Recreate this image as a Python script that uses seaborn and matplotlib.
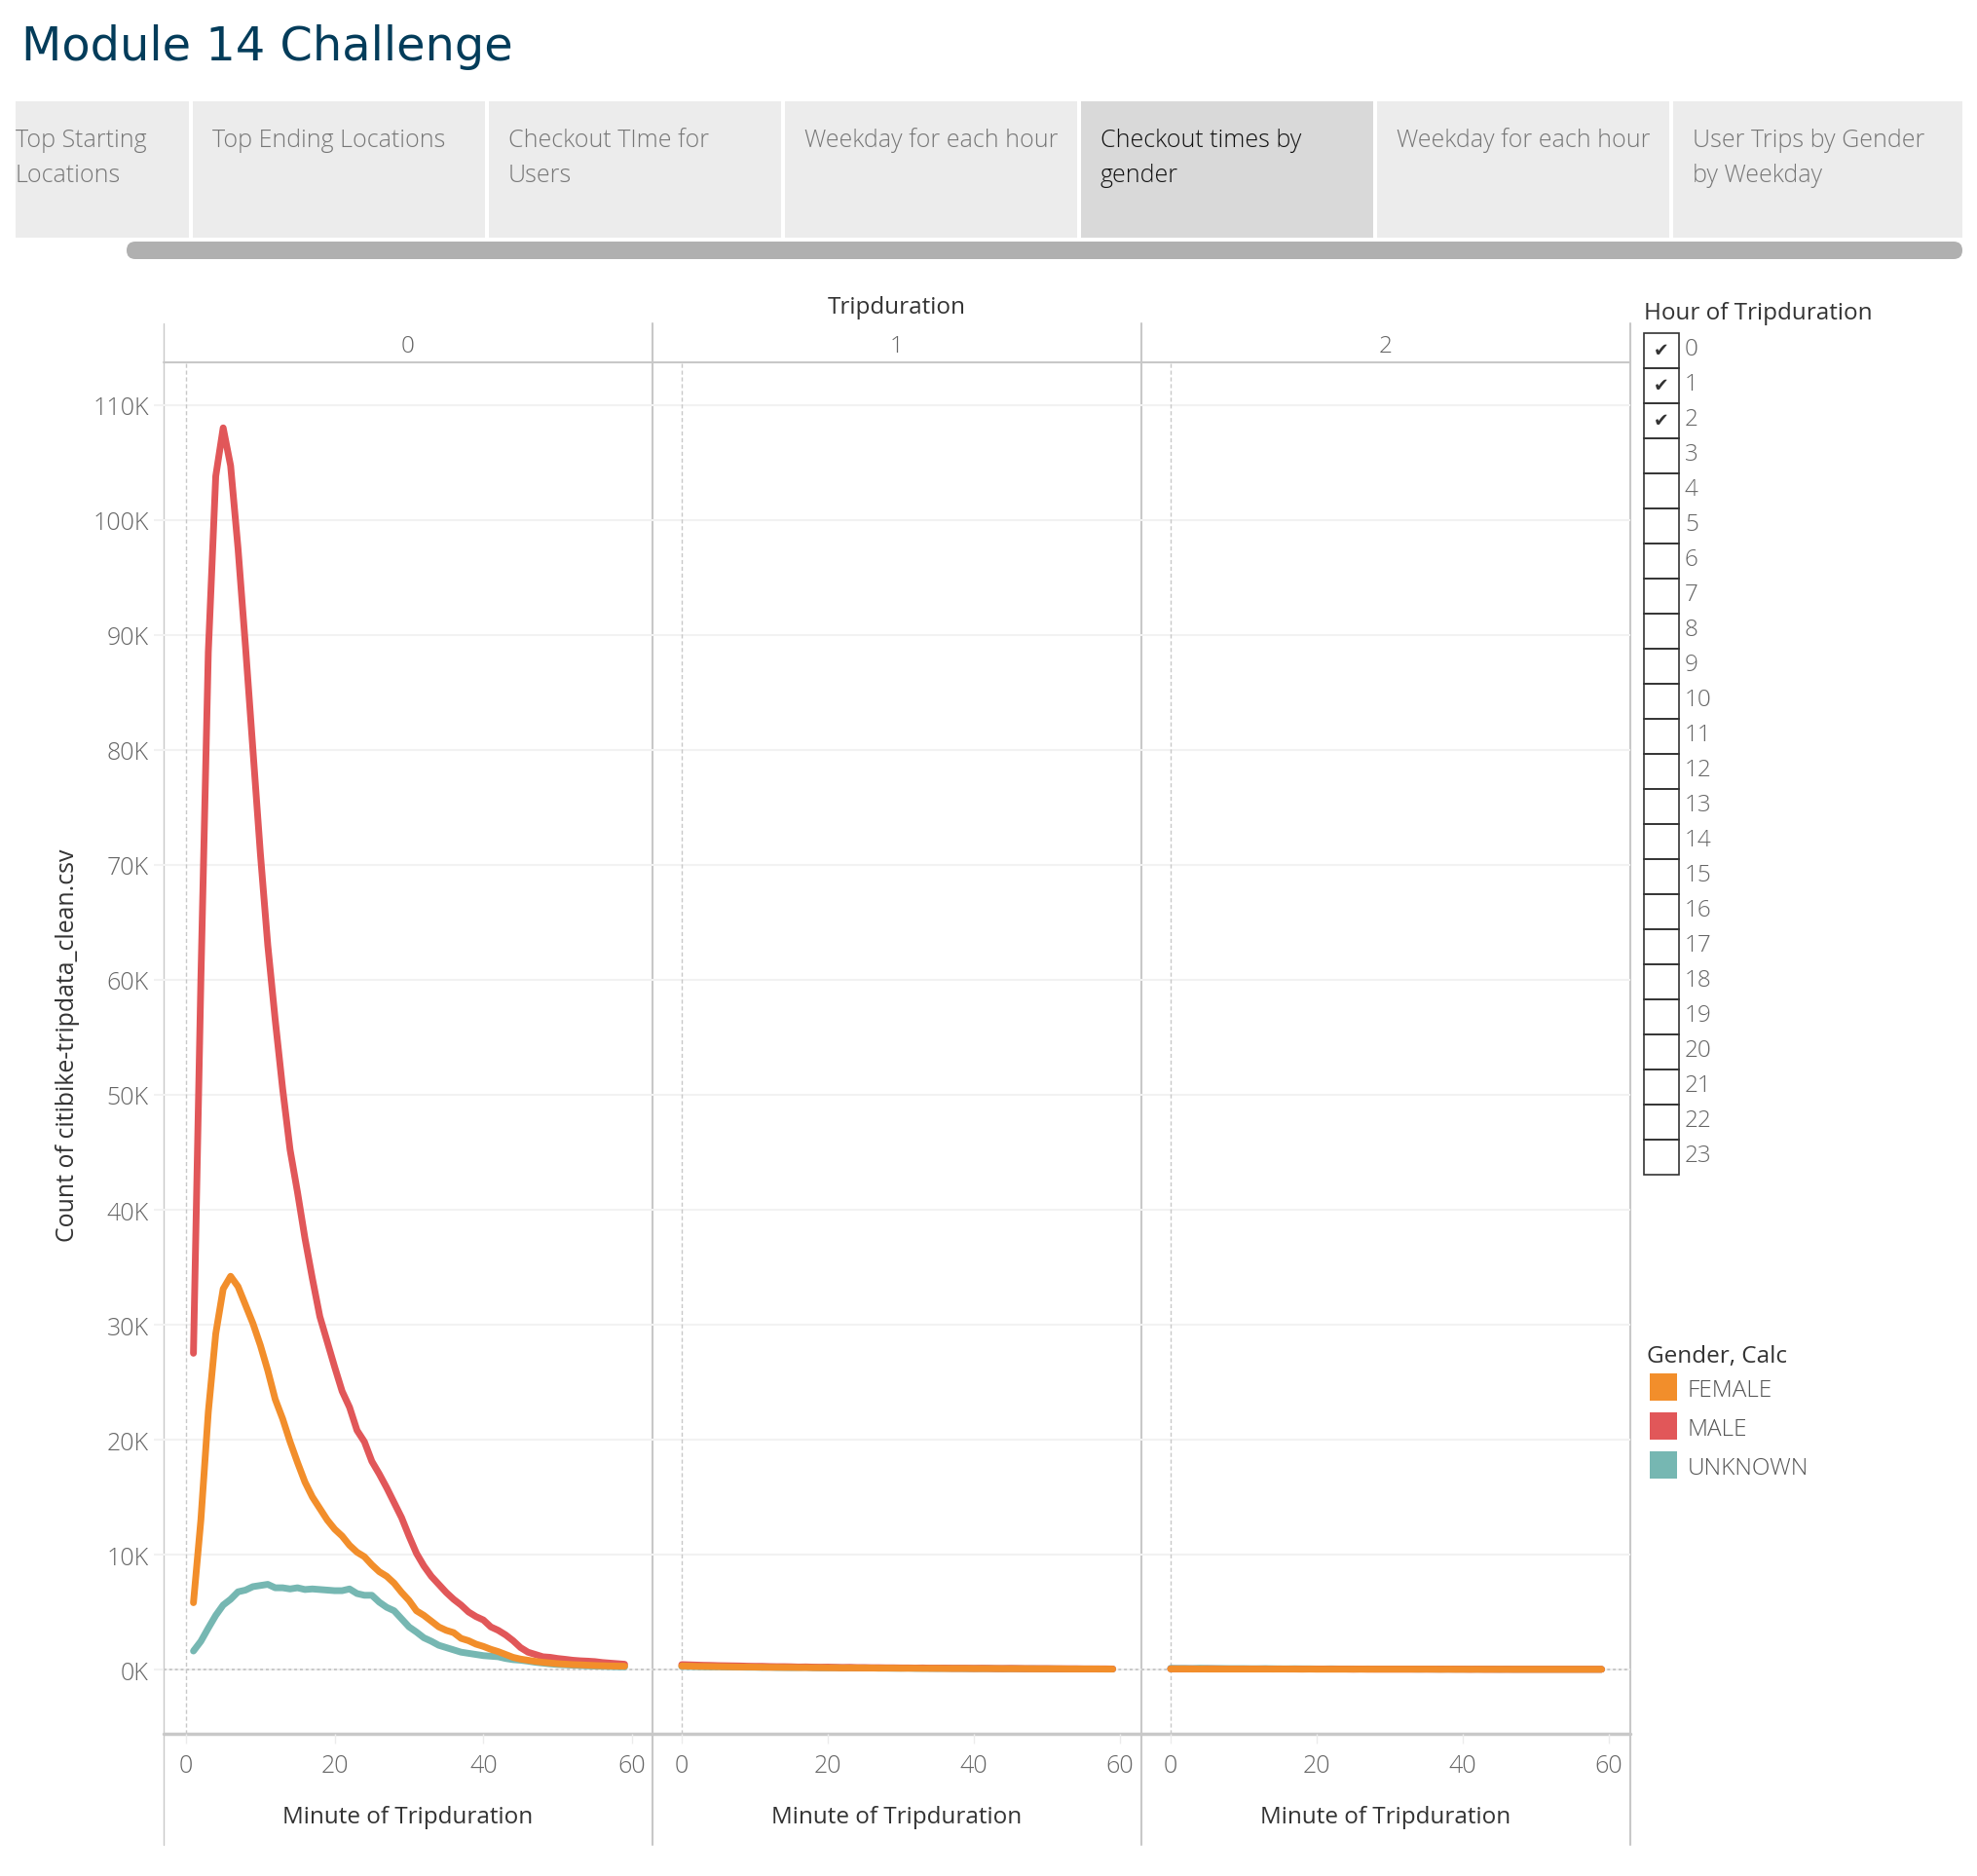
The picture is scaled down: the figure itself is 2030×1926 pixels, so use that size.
"""Module 14 Challenge: checkout times by gender, one panel per hour of trip duration."""
import matplotlib
matplotlib.use("Agg")
import matplotlib.pyplot as plt
import numpy as np
import pandas as pd
import seaborn as sns
from matplotlib.patches import FancyBboxPatch, Rectangle
from matplotlib.transforms import ScaledTranslation

W, H = 2030, 1926

# counts in thousands
female_h0 = [5.8, 13.0, 22.4, 29.2, 33.1, 34.2, 33.3, 31.7, 30.1, 28.2, 26.0, 23.5, 21.8, 19.8, 18.0,
             16.3, 15.0, 14.0, 13.0, 12.2, 11.6, 10.8, 10.2, 9.8, 9.1, 8.5, 8.1, 7.5, 6.7, 6.0,
             5.1, 4.7, 4.2, 3.7, 3.4, 3.2, 2.7, 2.5, 2.2, 2.0, 1.75, 1.55, 1.3, 1.05, 0.9,
             0.8, 0.7, 0.62, 0.56, 0.5, 0.46, 0.42, 0.4, 0.37, 0.34, 0.32, 0.3, 0.29, 0.28]
male_h0 = [27.5, 60.0, 88.5, 103.8, 108.0, 104.7, 97.5, 89.0, 80.0, 71.0, 63.0, 56.5, 50.5, 45.2, 41.5,
           37.5, 34.0, 30.7, 28.5, 26.3, 24.2, 22.8, 20.8, 19.8, 18.1, 17.0, 15.8, 14.5, 13.2, 11.6,
           10.1, 9.0, 8.1, 7.4, 6.7, 6.1, 5.6, 5.0, 4.6, 4.3, 3.7, 3.4, 3.0, 2.5, 1.9,
           1.5, 1.3, 1.1, 1.05, 0.95, 0.88, 0.8, 0.75, 0.72, 0.68, 0.6, 0.55, 0.5, 0.45]
unknown_h0 = [1.6, 2.45, 3.6, 4.7, 5.6, 6.1, 6.75, 6.9, 7.2, 7.3, 7.4, 7.1, 7.1, 7.0, 7.1,
              6.95, 7.0, 6.95, 6.9, 6.85, 6.85, 7.0, 6.6, 6.45, 6.45, 5.85, 5.4, 5.1, 4.4, 3.7,
              3.25, 2.75, 2.45, 2.1, 1.9, 1.7, 1.5, 1.4, 1.3, 1.2, 1.15, 1.1, 0.95, 0.85, 0.8,
              0.72, 0.62, 0.55, 0.48, 0.43, 0.4, 0.37, 0.34, 0.31, 0.29, 0.27, 0.25, 0.23, 0.22]

female_h1 = [0.30, 0.29, 0.27, 0.26, 0.25, 0.24, 0.23, 0.22, 0.21, 0.21, 0.20, 0.19, 0.18, 0.18, 0.17,
             0.17, 0.16, 0.16, 0.15, 0.15, 0.14, 0.14, 0.13, 0.13, 0.13, 0.12, 0.12, 0.11, 0.11, 0.11,
             0.10, 0.10, 0.10, 0.09, 0.09, 0.09, 0.08, 0.08, 0.08, 0.08, 0.07, 0.07, 0.07, 0.07, 0.06,
             0.06, 0.06, 0.06, 0.05, 0.05, 0.05, 0.05, 0.05, 0.04, 0.04, 0.04, 0.04, 0.04, 0.03, 0.03]
male_h1 = [0.42, 0.40, 0.38, 0.36, 0.35, 0.33, 0.32, 0.31, 0.30, 0.28, 0.27, 0.27, 0.25, 0.24, 0.24,
           0.23, 0.21, 0.22, 0.20, 0.19, 0.20, 0.18, 0.17, 0.18, 0.16, 0.16, 0.15, 0.15, 0.14, 0.14,
           0.13, 0.13, 0.12, 0.13, 0.11, 0.11, 0.11, 0.10, 0.10, 0.10, 0.09, 0.10, 0.09, 0.08, 0.08,
           0.09, 0.08, 0.07, 0.07, 0.07, 0.07, 0.06, 0.06, 0.06, 0.06, 0.05, 0.05, 0.05, 0.05, 0.04]
unknown_h1 = [0.26, 0.25, 0.24, 0.23, 0.22, 0.23, 0.21, 0.20, 0.20, 0.19, 0.19, 0.18, 0.19, 0.17, 0.17,
              0.16, 0.17, 0.18, 0.15, 0.14, 0.14, 0.15, 0.13, 0.13, 0.12, 0.13, 0.12, 0.11, 0.11, 0.10,
              0.10, 0.11, 0.09, 0.09, 0.09, 0.08, 0.09, 0.08, 0.08, 0.07, 0.07, 0.07, 0.08, 0.06, 0.06,
              0.06, 0.06, 0.05, 0.06, 0.05, 0.05, 0.05, 0.04, 0.04, 0.04, 0.04, 0.04, 0.03, 0.03, 0.03]

female_h2 = [0.04, 0.04, 0.04, 0.03, 0.04, 0.03, 0.03, 0.03, 0.03, 0.03, 0.03, 0.03, 0.03, 0.03, 0.03,
             0.03, 0.03, 0.03, 0.02, 0.03, 0.02, 0.02, 0.02, 0.02, 0.02, 0.02, 0.02, 0.02, 0.02, 0.02,
             0.02, 0.02, 0.02, 0.02, 0.02, 0.02, 0.02, 0.01, 0.02, 0.01, 0.01, 0.01, 0.01, 0.01, 0.01,
             0.01, 0.01, 0.01, 0.01, 0.01, 0.01, 0.01, 0.01, 0.01, 0.01, 0.01, 0.01, 0.01, 0.01, 0.01]
male_h2 = [0.05, 0.05, 0.05, 0.05, 0.04, 0.05, 0.05, 0.04, 0.04, 0.04, 0.04, 0.04, 0.04, 0.04, 0.03,
           0.04, 0.03, 0.03, 0.03, 0.03, 0.03, 0.03, 0.03, 0.03, 0.03, 0.02, 0.03, 0.02, 0.02, 0.02,
           0.02, 0.02, 0.02, 0.02, 0.02, 0.02, 0.02, 0.02, 0.02, 0.02, 0.02, 0.01, 0.02, 0.01, 0.01,
           0.01, 0.01, 0.01, 0.01, 0.01, 0.01, 0.01, 0.01, 0.01, 0.01, 0.01, 0.01, 0.01, 0.01, 0.01]
unknown_h2 = [0.10, 0.09, 0.09, 0.08, 0.10, 0.09, 0.08, 0.08, 0.07, 0.07, 0.07, 0.06, 0.06, 0.07, 0.06,
              0.05, 0.05, 0.06, 0.05, 0.05, 0.04, 0.04, 0.05, 0.04, 0.04, 0.04, 0.03, 0.04, 0.03, 0.03,
              0.03, 0.03, 0.03, 0.03, 0.02, 0.03, 0.02, 0.02, 0.02, 0.02, 0.02, 0.02, 0.02, 0.02, 0.02,
              0.01, 0.02, 0.01, 0.01, 0.01, 0.01, 0.01, 0.01, 0.01, 0.01, 0.01, 0.01, 0.01, 0.01, 0.01]

genders = ["FEMALE", "MALE", "UNKNOWN"]
palette = {"FEMALE": "#f28e2b", "MALE": "#e15759", "UNKNOWN": "#76b7b2"}
hour_values = ["0", "1", "2", "3", "4", "5", "6", "7", "8", "9", "10", "11",
               "12", "13", "14", "15", "16", "17", "18", "19", "20", "21", "22", "23"]
checked_hours = ["0", "1", "2"]
tab_labels = [["Top Starting", "Locations"], ["Top Ending Locations"], ["Checkout TIme for", "Users"],
              ["Weekday for each hour"], ["Checkout times by", "gender"], ["Weekday for each hour"],
              ["User Trips by Gender", "by Weekday"]]
x_ticks = [0, 20, 40, 60]
y_ticks = [0, 10, 20, 30, 40, 50, 60, 70, 80, 90, 100, 110]

sns.set_theme(style="white")
plt.rcParams["font.family"] = ["Open Sans", "DejaVu Sans"]

GREY_LINE = "#c8c8c8"
GRID = "#f2f2f2"
TEXT_DARK = "#333333"
TEXT_GREY = "#666666"
LABEL_PT = 17.5
TICK_PT = 18
NUDGE = 2.5  # open sans sits a little high with va="center"


def build_frame(hour, female, male, unknown, start):
    rows = []
    for gender, vals in zip(genders, [female, male, unknown]):
        rows.append(pd.DataFrame({"hour": hour, "gender": gender,
                                  "minute": np.arange(start, start + len(vals)), "count": vals}))
    return pd.concat(rows, ignore_index=True)


trips = pd.concat([build_frame(0, female_h0, male_h0, unknown_h0, 1),
                   build_frame(1, female_h1, male_h1, unknown_h1, 0),
                   build_frame(2, female_h2, male_h2, unknown_h2, 0)], ignore_index=True)

fig = plt.figure(figsize=(W / 100, H / 100), dpi=100, facecolor="white")

# page furniture is drawn in pixel coordinates on one full-figure axes
page = fig.add_axes([0, 0, 1, 1], zorder=0)
page.set_xlim(0, W)
page.set_ylim(H, 0)
page.axis("off")

page.text(22, 48.5, "Module 14 Challenge", fontsize=34.5, color="#033c5a", va="center",
          family="DejaVu Sans")

tab_edges = [(16, 194), (198, 498), (502, 802), (806, 1106), (1110, 1410), (1414, 1714), (1718, 2015)]
for i, ((x0, x1), lines) in enumerate(zip(tab_edges, tab_labels)):
    active = i == 4
    page.add_patch(Rectangle((x0, 104), x1 - x0, 140, color="#d9d9d9" if active else "#ececec", lw=0))
    tx = x0 if i == 0 else x0 + 20
    for j, line in enumerate(lines):
        page.text(tx, 142 + NUDGE + j * 36, line, fontsize=18, va="center",
                  color="#111111" if active else "#777777", fontweight="light")
page.add_patch(FancyBboxPatch((130, 248), 1885, 18, boxstyle="round,pad=0,rounding_size=9",
                              color="#b0b0b0", lw=0))

panel_edges = [168, 670, 1172, 1674]
TOP, BOTTOM, FOOT, HEAD = 372, 1780, 1894, 332
for x in panel_edges:
    page.plot([x, x], [HEAD, FOOT], color=GREY_LINE, lw=1.5 if x != 168 else 1.0, zorder=3)
page.plot([168, 1674], [TOP, TOP], color=GREY_LINE, lw=1.5, zorder=3)
page.plot([168, 1674], [BOTTOM, BOTTOM], color=GREY_LINE, lw=2.5, zorder=3)
page.text(921, 314 + NUDGE, "Tripduration", fontsize=LABEL_PT, color=TEXT_DARK, ha="center", va="center")

# hour filter
page.text(1688, 320 + NUDGE, "Hour of Tripduration", fontsize=LABEL_PT, color=TEXT_DARK, va="center")
for i, hour in enumerate(hour_values):
    y = 342 + i * 36
    page.add_patch(Rectangle((1688, y), 36, 36, fill=False, ec="#333333", lw=1.2))
    if hour in checked_hours:
        page.text(1706, y + 18, "\u2714", fontsize=13.5, color="#333333", ha="center", va="center",
                  family="DejaVu Sans")
    page.text(1730, y + 17, hour, fontsize=LABEL_PT, color=TEXT_GREY, va="center", fontweight="light")

# colour legend
page.text(1691, 1390 + NUDGE, "Gender, Calc", fontsize=LABEL_PT, color=TEXT_DARK, va="center")
for i, gender in enumerate(genders):
    y = 1410 + i * 40
    page.add_patch(Rectangle((1694, y), 28, 28, color=palette[gender], lw=0))
    page.text(1733, y + 15 + NUDGE, gender, fontsize=LABEL_PT, color="#555555", va="center", fontweight="light")

zero_px = [191, 700, 1202]
px_per_min = [7.633, 7.5, 7.5]
tick_nudge = ScaledTranslation(0, -1.2 / 100, fig.dpi_scale_trans)
for i, hour in enumerate([0, 1, 2]):
    x0, x1 = panel_edges[i], panel_edges[i + 1]
    ax = fig.add_axes([x0 / W, 1 - BOTTOM / H, (x1 - x0) / W, (BOTTOM - TOP) / H], zorder=1)
    ax.patch.set_alpha(0)
    sns.lineplot(data=trips[trips["hour"] == hour], x="minute", y="count", hue="gender",
                 hue_order=["UNKNOWN", "MALE", "FEMALE"], palette=palette, legend=False,
                 errorbar=None, linewidth=5, solid_capstyle="round", solid_joinstyle="round",
                 ax=ax, zorder=4)
    ax.set_xlim((x0 - zero_px[i]) / px_per_min[i], (x1 - zero_px[i]) / px_per_min[i])
    ax.set_ylim(-5.6, 113.7)
    sns.despine(ax=ax, left=True, bottom=True)

    ax.axvline(0, color=GREY_LINE, lw=1, ls=(0, (3, 2)), zorder=2)
    ax.axhline(0, color=GREY_LINE, lw=1.4, ls=(0, (1.5, 1.5)), zorder=3)
    ax.set_yticks(y_ticks)
    ax.yaxis.grid(True, color=GRID, lw=1.5, zorder=1)
    ax.set_xticks(x_ticks)
    ax.tick_params(axis="x", length=7, width=1, color="#ececec", labelsize=TICK_PT, labelcolor=TEXT_GREY,
                   pad=8, bottom=True)
    for t in ax.get_xticklabels():
        t.set_fontweight("light")
    ax.set_xlabel("Minute of Tripduration", fontsize=LABEL_PT, color=TEXT_DARK, va="center")
    ax.xaxis.set_label_coords(0.5, -(1863 + NUDGE - BOTTOM) / (BOTTOM - TOP))
    ax.text(0.5, (BOTTOM - 353 - NUDGE) / (BOTTOM - TOP), str(hour), transform=ax.transAxes, ha="center",
            va="center", fontsize=LABEL_PT, color=TEXT_GREY, fontweight="light")
    if i == 0:
        ax.set_yticklabels([f"{v}K" for v in y_ticks])
        ax.tick_params(axis="y", length=7, width=1.5, color=GRID, labelsize=TICK_PT, labelcolor=TEXT_GREY,
                       pad=4, left=True)
        for t in ax.get_yticklabels():
            t.set_fontweight("light")
            t.set_transform(t.get_transform() + tick_nudge)
        ax.set_ylabel("Count of citibike-tripdata_clean.csv", fontsize=17.9, color=TEXT_DARK, va="center")
        ax.yaxis.set_label_coords((70 - x0) / (x1 - x0), 0.502)
    else:
        ax.tick_params(axis="y", left=False, labelleft=False)
        ax.set_ylabel("")

fig.savefig("out.png", dpi=100)
plt.close(fig)
